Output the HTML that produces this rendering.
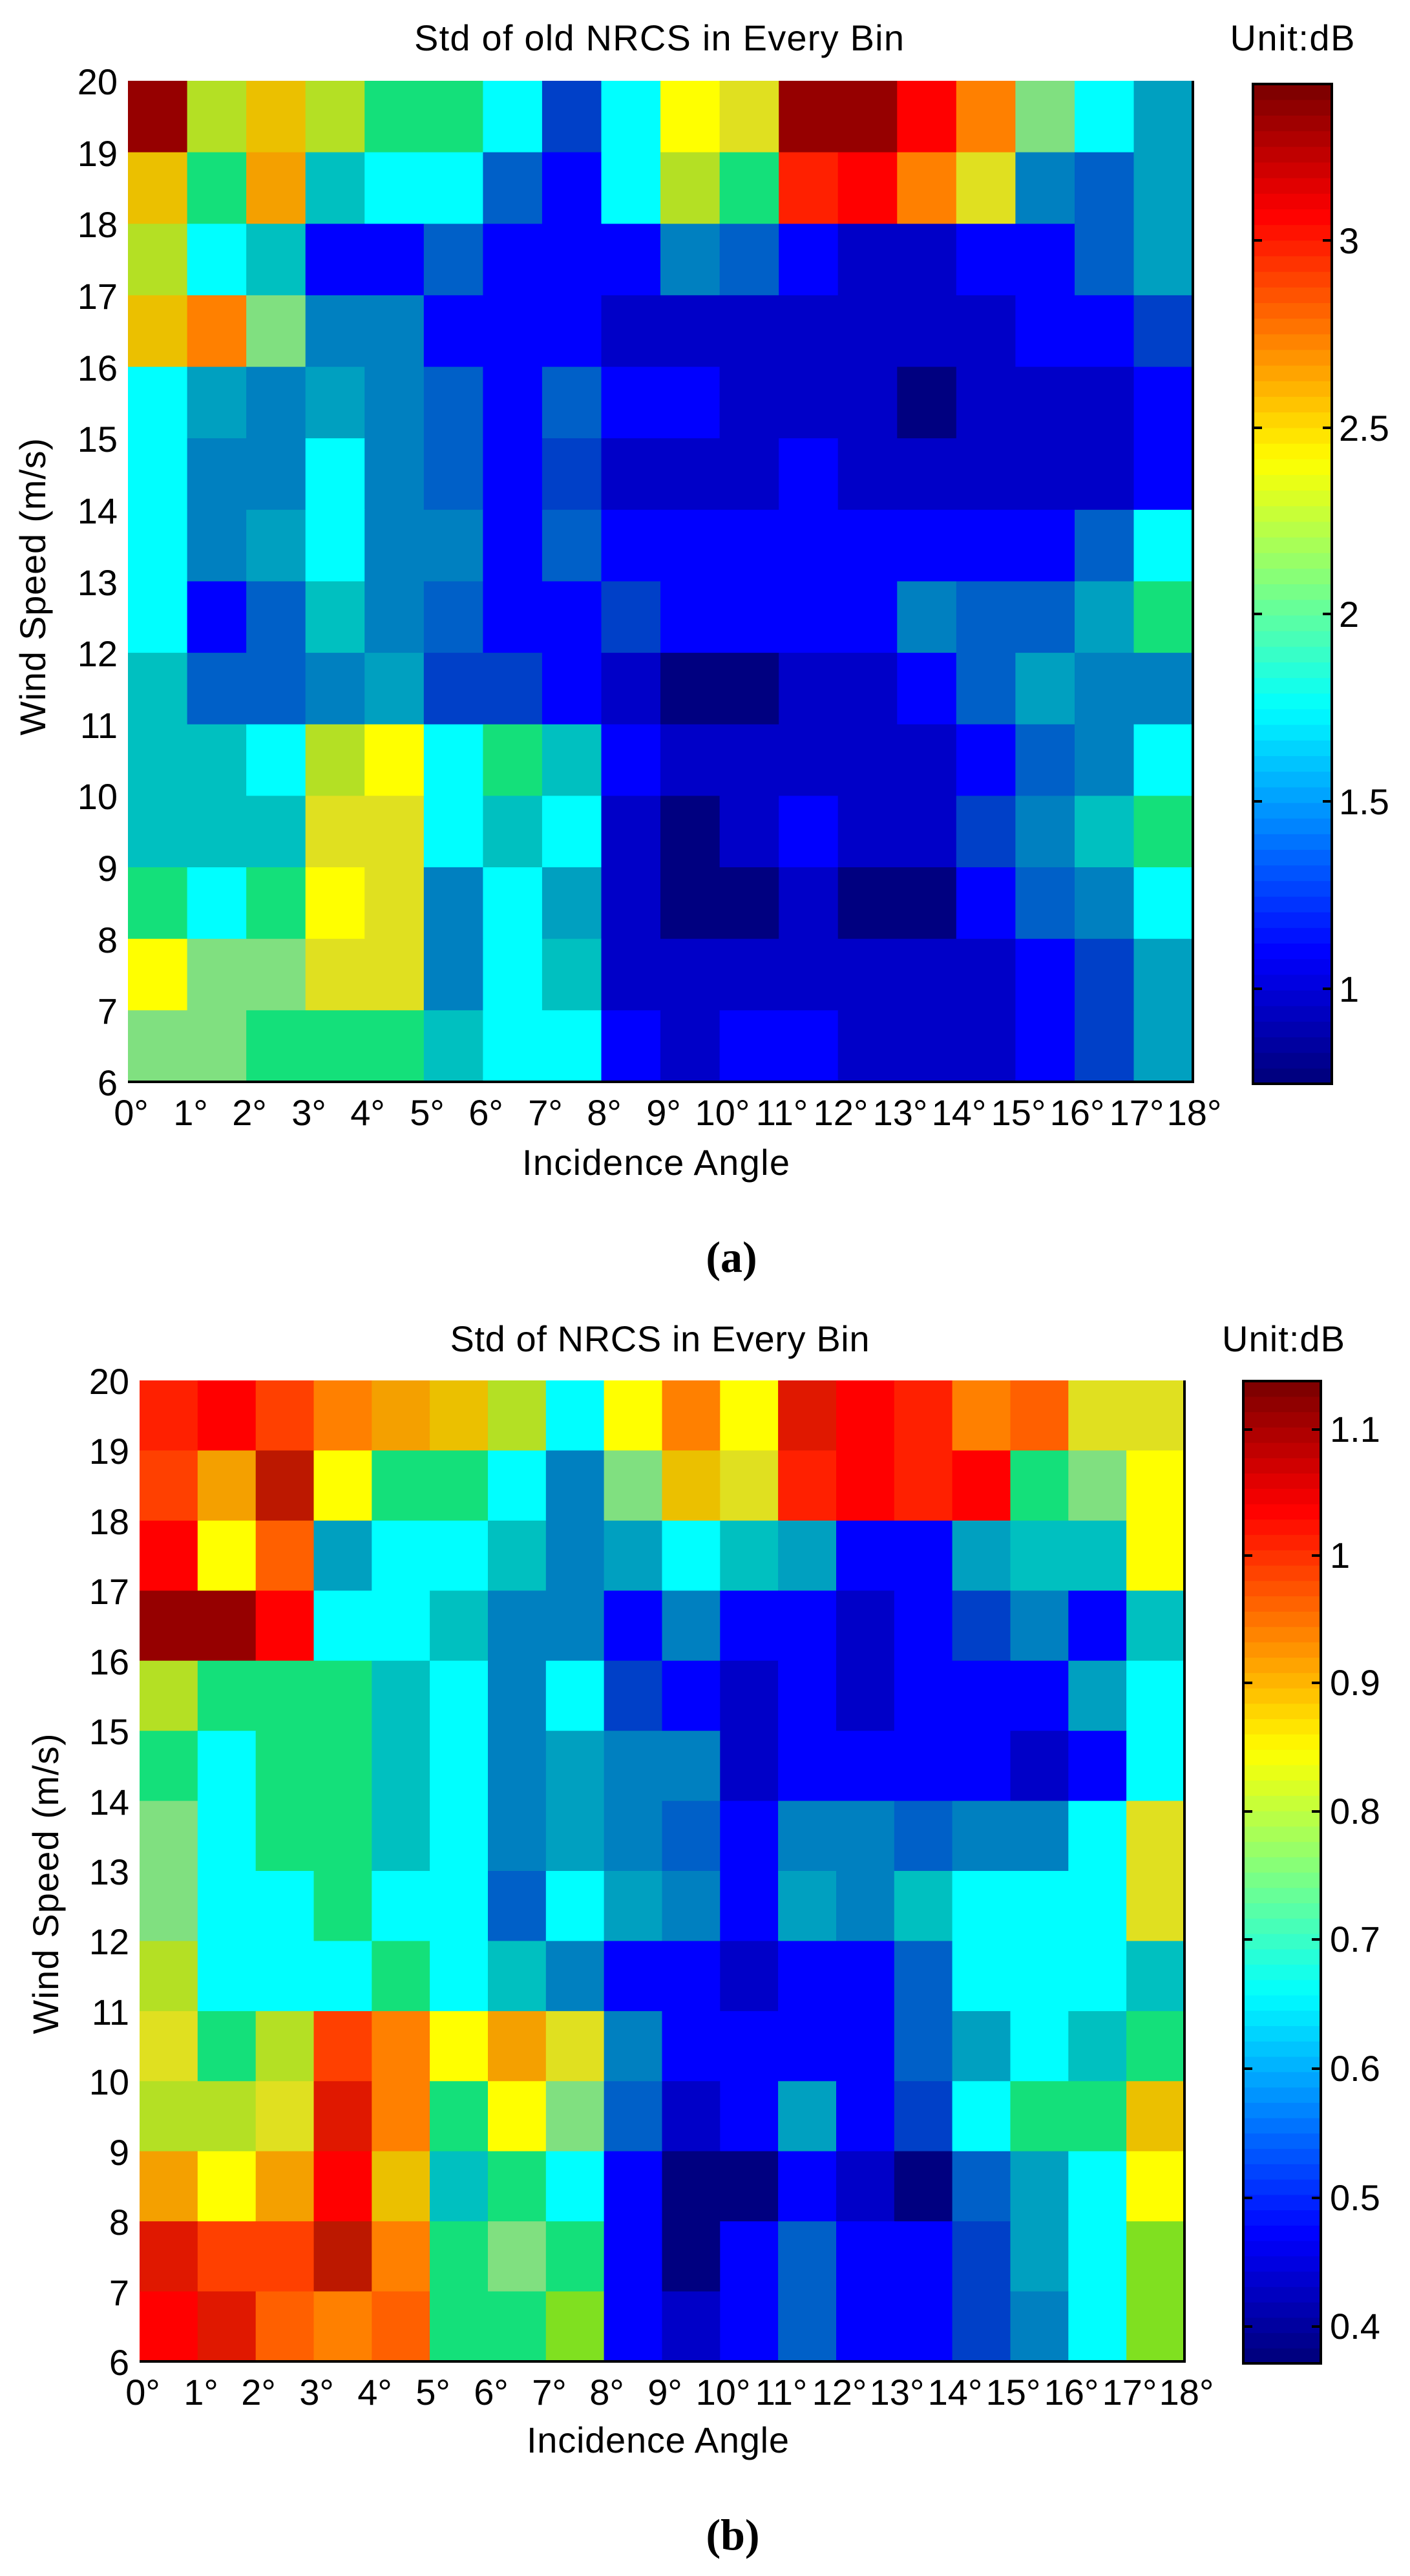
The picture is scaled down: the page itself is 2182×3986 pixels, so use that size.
<!DOCTYPE html>
<html><head><meta charset="utf-8"><style>
html,body{margin:0;padding:0;background:#fff;}
svg{display:block;}
text{font-family:"Liberation Sans",Arial,sans-serif;fill:#000;}
.t{font-size:56px;}
.s{font-family:"Liberation Serif",serif;font-weight:bold;font-size:68px;}
</style></head><body>
<svg id="s" width="2182" height="3986" viewBox="0 0 2182 3986" xmlns="http://www.w3.org/2000/svg">
<g id="cells"></g>
<g id="bands"></g>
<!-- Plot a frame -->
<line x1="198" y1="1674" x2="1848" y2="1674" stroke="#000" stroke-width="4"/>
<line x1="1846" y1="125" x2="1846" y2="1676" stroke="#000" stroke-width="4"/>
<!-- Plot b frame -->
<line x1="216" y1="3654" x2="1835" y2="3654" stroke="#000" stroke-width="4"/>
<line x1="1833" y1="2136" x2="1833" y2="3656" stroke="#000" stroke-width="4"/>
<!-- colorbars -->
<rect x="1939" y="130" width="122" height="1547" fill="none" stroke="#000" stroke-width="4"/>
<rect x="1924" y="2137" width="120" height="1520" fill="none" stroke="#000" stroke-width="4"/>
<g id="cbt" stroke="#000" stroke-width="4"></g>

<!-- titles -->
<text x="1020" y="78" class="t" text-anchor="middle" textLength="758">Std of old NRCS in Every Bin</text>
<text x="2000" y="78" class="t" text-anchor="middle" textLength="193">Unit:dB</text>
<text x="1021" y="2091" class="t" text-anchor="middle" textLength="649">Std of NRCS in Every Bin</text>
<text x="1986" y="2091" class="t" text-anchor="middle" textLength="190">Unit:dB</text>

<g class="t" text-anchor="end">
<text x="182" y="146">20</text><text x="182" y="257">19</text><text x="182" y="367">18</text><text x="182" y="478">17</text><text x="182" y="589">16</text><text x="182" y="699">15</text><text x="182" y="810">14</text><text x="182" y="921">13</text><text x="182" y="1031">12</text><text x="182" y="1142">11</text><text x="182" y="1252">10</text><text x="182" y="1363">9</text><text x="182" y="1474">8</text><text x="182" y="1584">7</text><text x="182" y="1695">6</text>
</g>
<g class="t" text-anchor="end">
<text x="200" y="2157">20</text><text x="200" y="2265">19</text><text x="200" y="2374">18</text><text x="200" y="2482">17</text><text x="200" y="2591">16</text><text x="200" y="2699">15</text><text x="200" y="2808">14</text><text x="200" y="2916">13</text><text x="200" y="3024">12</text><text x="200" y="3133">11</text><text x="200" y="3241">10</text><text x="200" y="3350">9</text><text x="200" y="3458">8</text><text x="200" y="3567">7</text><text x="200" y="3675">6</text>
</g>
<g class="t" text-anchor="middle">
<text x="203" y="1741">0°</text><text x="295" y="1741">1°</text><text x="386" y="1741">2°</text><text x="478" y="1741">3°</text><text x="569" y="1741">4°</text><text x="661" y="1741">5°</text><text x="752" y="1741">6°</text><text x="844" y="1741">7°</text><text x="935" y="1741">8°</text><text x="1027" y="1741">9°</text><text x="1118" y="1741">10°</text><text x="1210" y="1741">11°</text><text x="1301" y="1741">12°</text><text x="1393" y="1741">13°</text><text x="1484" y="1741">14°</text><text x="1576" y="1741">15°</text><text x="1667" y="1741">16°</text><text x="1759" y="1741">17°</text><text x="1848" y="1741">18°</text>
</g>
<g class="t" text-anchor="middle">
<text x="221" y="3721">0°</text><text x="311" y="3721">1°</text><text x="400" y="3721">2°</text><text x="490" y="3721">3°</text><text x="580" y="3721">4°</text><text x="670" y="3721">5°</text><text x="760" y="3721">6°</text><text x="850" y="3721">7°</text><text x="939" y="3721">8°</text><text x="1029" y="3721">9°</text><text x="1119" y="3721">10°</text><text x="1209" y="3721">11°</text><text x="1299" y="3721">12°</text><text x="1388" y="3721">13°</text><text x="1478" y="3721">14°</text><text x="1568" y="3721">15°</text><text x="1658" y="3721">16°</text><text x="1748" y="3721">17°</text><text x="1836" y="3721">18°</text>
</g>
<text x="1015" y="1818" class="t" text-anchor="middle" textLength="414">Incidence Angle</text>
<text x="1018" y="3795" class="t" text-anchor="middle" textLength="406">Incidence Angle</text>
<text transform="translate(70,908) rotate(-90)" class="t" text-anchor="middle" textLength="460">Wind Speed (m/s)</text>
<text transform="translate(90,2915) rotate(-90)" class="t" text-anchor="middle" textLength="465">Wind Speed (m/s)</text>
<g class="t">
<text x="2072" y="392">3</text><text x="2072" y="682">2.5</text><text x="2072" y="970">2</text><text x="2072" y="1260">1.5</text><text x="2072" y="1550">1</text>
</g>
<g class="t">
<text x="2058" y="2231">1.1</text><text x="2058" y="2426">1</text><text x="2058" y="2623">0.9</text><text x="2058" y="2822">0.8</text><text x="2058" y="3020">0.7</text><text x="2058" y="3220">0.6</text><text x="2058" y="3420">0.5</text><text x="2058" y="3619">0.4</text>
</g>
<text x="1132" y="1968" class="s" text-anchor="middle">(a)</text>
<text x="1134" y="3945" class="s" text-anchor="middle">(b)</text>
</svg>
<script>
var P={N:"#000080",D:"#0000c8",B:"#0000ff",b:"#0040c8",M:"#0060c8",m:"#0080c0",T:"#00a0c0",t:"#00c0c0",C:"#00ffff",G:"#14e07a",g:"#80e080",v:"#80e020",L:"#b4e024",l:"#e0e020",Y:"#ffff00",O:"#ebc000",o:"#f4a000",R:"#ff8000",r:"#ff6000",E:"#ff4000",F:"#ff2000",X:"#ff0000",Q:"#e01800",K:"#bc1800",W:"#960000"};
var A=["WLOLGGCbCYlWWXRgCT","OGotCCMBCLGFXRlmMT","LCtBBMBBBmMBDDBBMT","ORgmmBBBDDDDDDDBBb","CTmTmMBMBBDDDNDDDB","CmmCmMBbDDDBDDDDDB","CmTCmmBMBBBBBBBBMC","CBMtmMBBbBBBBmMMTG","tMMmTbbBDNNDDBMTmm","ttCLYCGtBDDDDDBMmC","tttllCtCDNDBDDbmtG","GCGYlmCTDNNDNNBMmC","YggllmCtDDDDDDDBbT","ggGGGtCCBDBBDDDBbT"];
var Bb=["FXERoOLCYRYQXFRrll","EoKYGGCmgOlFXFXGgY","XYrTCCtmTCtTBBTttY","WWXCCtmmBmBBDBbmBt","LGGGtCmCbBDBDBBBTC","GCGGtCmTmmDBBBBDBC","gCGGtCmTmMBmmMmmCl","gCCGCCMCTmBTmtCCCl","LCCCGCtmBBDBBMCCCt","lGLERYolmBBBBMTCtG","LLlQRGYgMDBTBbCGGO","oYoXOtGCBNNBDNMTCY","QEEKRGgGBNBMBBbTCv","XQrRrGGvBDBMBBbmCv"];
var h="";
function grid(rows,x0,y0,w,hh){for(var r=0;r<14;r++)for(var c=0;c<18;c++){var x=x0+c*w,y=y0+r*hh;h+='<rect x="'+x.toFixed(1)+'" y="'+y.toFixed(1)+'" width="'+(w+0.6).toFixed(1)+'" height="'+(hh+0.6).toFixed(1)+'" fill="'+P[rows[r][c]]+'"/>';}}
grid(A,198,125,91.56,110.64);
grid(Bb,216,2136,89.83,108.43);
document.getElementById("cells").innerHTML=h;
function cl(v){return Math.max(0,Math.min(1,v));}
function jet(i){var x=i/63;var r=cl(1.5-Math.abs(4*x-3)),g=cl(1.5-Math.abs(4*x-2)),b=cl(1.5-Math.abs(4*x-1));return "rgb("+Math.round(r*255)+","+Math.round(g*255)+","+Math.round(b*255)+")";}
var bs="";
function bar(x,y0,w,H){var bh=H/64;for(var i=0;i<64;i++){var y=y0+H-(i+1)*bh;bs+='<rect x="'+x+'" y="'+y.toFixed(2)+'" width="'+w+'" height="'+(bh+0.6).toFixed(2)+'" fill="'+jet(i)+'"/>';}}
bar(1939,130,122,1547);
bar(1924,2137,120,1520);
document.getElementById("bands").innerHTML=bs;
var t="",ya=[372,662,950,1240,1530],yb=[2212,2407,2604,2803,3001,3201,3401,3600];
ya.forEach(function(y){t+='<line x1="1939" y1="'+y+'" x2="1953" y2="'+y+'"/><line x1="2047" y1="'+y+'" x2="2061" y2="'+y+'"/>';});
yb.forEach(function(y){t+='<line x1="1924" y1="'+y+'" x2="1938" y2="'+y+'"/><line x1="2030" y1="'+y+'" x2="2044" y2="'+y+'"/>';});
document.getElementById("cbt").innerHTML=t;
</script>
</body></html>
